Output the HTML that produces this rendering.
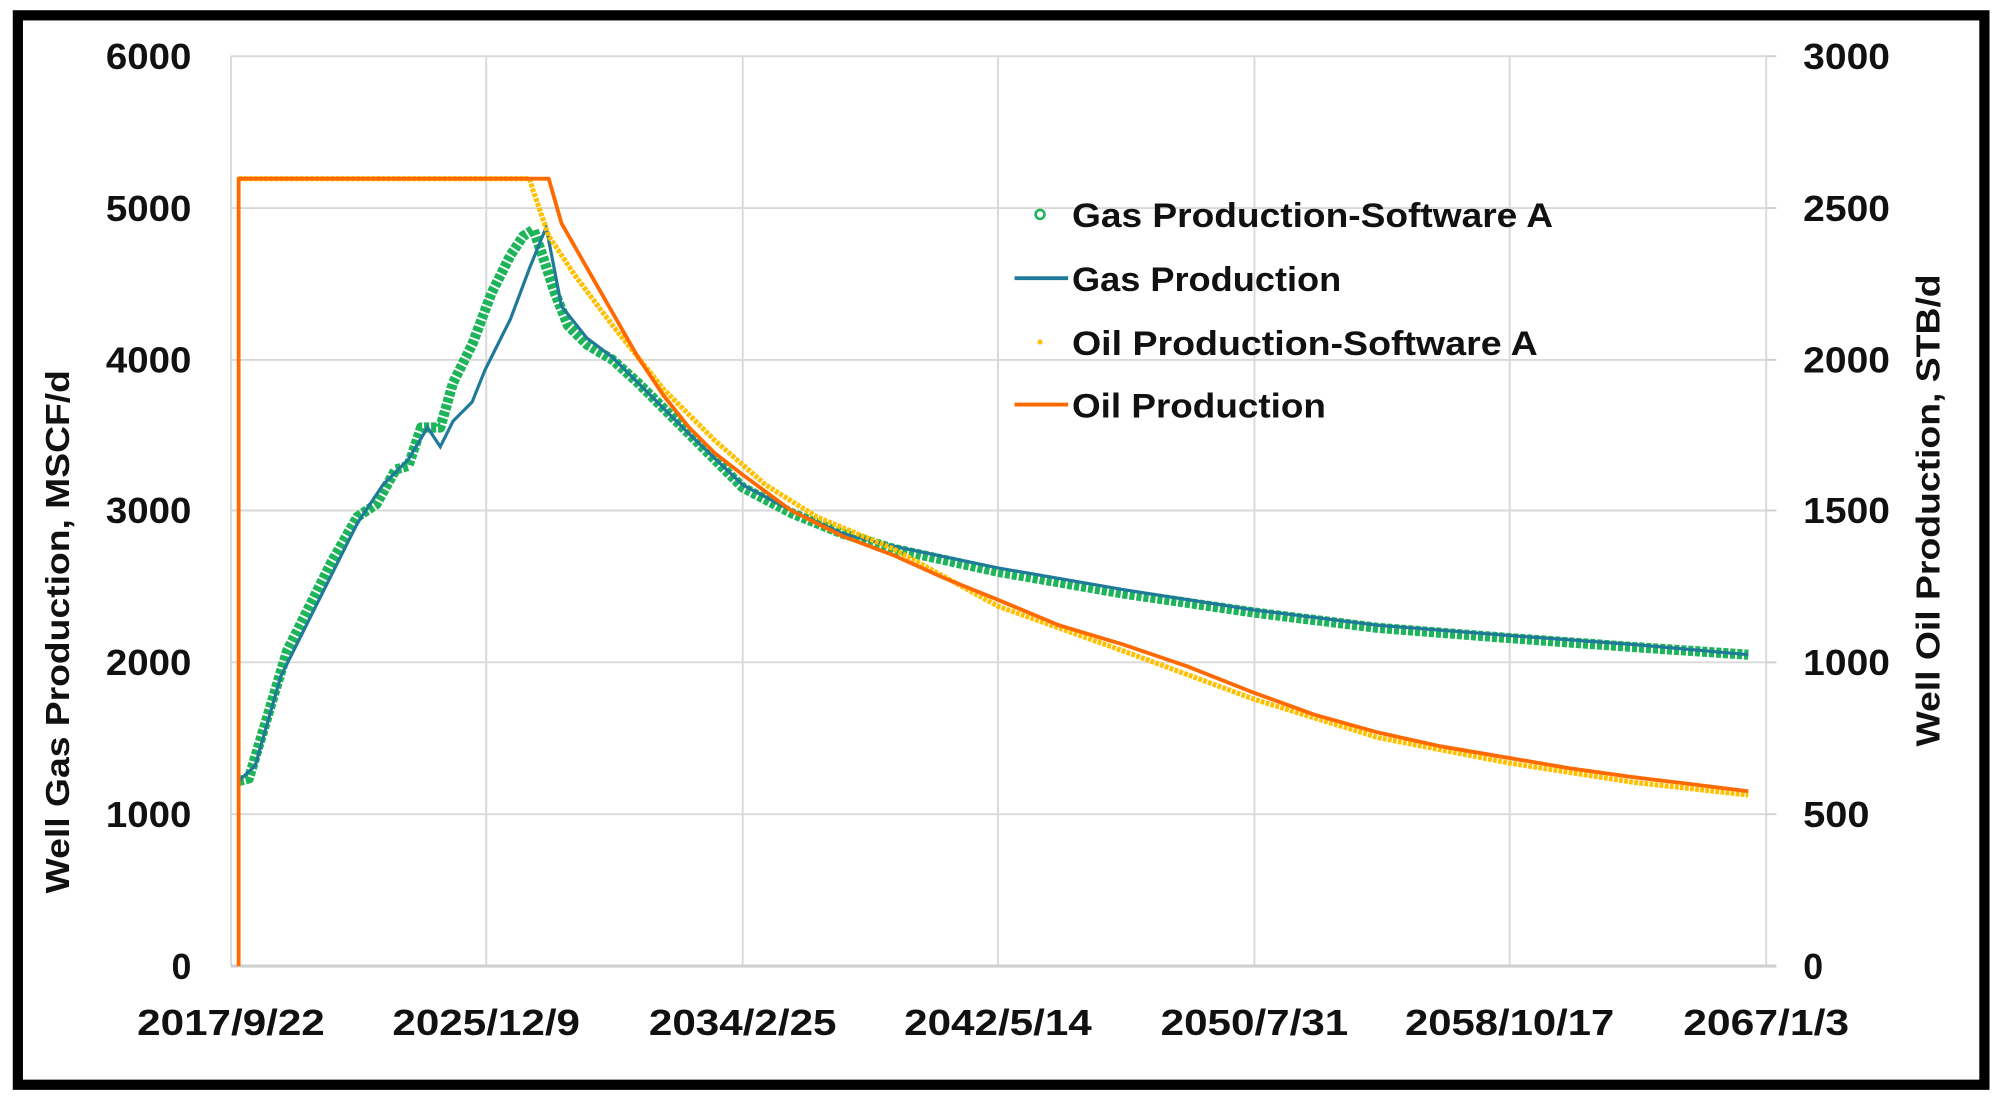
<!DOCTYPE html>
<html><head><meta charset="utf-8"><style>
html,body{margin:0;padding:0;background:#fff;}
svg{display:block;}
text{font-family:"Liberation Sans",sans-serif;font-weight:bold;fill:#111;}
</style></head><body>
<svg width="2001" height="1102" viewBox="0 0 1568 863.5" xmlns="http://www.w3.org/2000/svg">
<rect x="0" y="0" width="1568" height="863.5" fill="#fff"/>
<rect x="14" y="12" width="1541" height="838" fill="none" stroke="#000" stroke-width="8"/>
<g stroke="#d9d9d9" stroke-width="1.5">
<line x1="181" y1="44" x2="1384" y2="44"/><line x1="181" y1="163" x2="1384" y2="163"/>
<line x1="181" y1="282" x2="1384" y2="282"/><line x1="181" y1="400" x2="1384" y2="400"/>
<line x1="181" y1="519" x2="1384" y2="519"/><line x1="181" y1="638" x2="1384" y2="638"/>
<line x1="181" y1="44" x2="181" y2="757"/><line x1="381" y1="44" x2="381" y2="757"/>
<line x1="582" y1="44" x2="582" y2="757"/><line x1="782" y1="44" x2="782" y2="757"/>
<line x1="983" y1="44" x2="983" y2="757"/><line x1="1183" y1="44" x2="1183" y2="757"/>
<line x1="1384" y1="44" x2="1384" y2="757"/>
</g>
<line x1="181" y1="757" x2="1392" y2="757" stroke="#d0d0d0" stroke-width="2.5"/>
<g stroke="#d0d0d0" stroke-width="1.5"><line x1="1384" y1="44" x2="1392" y2="44"/><line x1="1384" y1="163" x2="1392" y2="163"/><line x1="1384" y1="282" x2="1392" y2="282"/><line x1="1384" y1="400" x2="1392" y2="400"/><line x1="1384" y1="519" x2="1392" y2="519"/><line x1="1384" y1="638" x2="1392" y2="638"/></g>
<g font-size="28" text-anchor="end">
<text x="150" y="54" textLength="67" lengthAdjust="spacingAndGlyphs">6000</text><text x="150" y="173" textLength="67" lengthAdjust="spacingAndGlyphs">5000</text><text x="150" y="292" textLength="67" lengthAdjust="spacingAndGlyphs">4000</text>
<text x="150" y="410" textLength="67" lengthAdjust="spacingAndGlyphs">3000</text><text x="150" y="529" textLength="67" lengthAdjust="spacingAndGlyphs">2000</text><text x="150" y="648" textLength="67" lengthAdjust="spacingAndGlyphs">1000</text><text x="150" y="767">0</text>
</g>
<g font-size="28" text-anchor="start">
<text x="1413" y="54" textLength="68" lengthAdjust="spacingAndGlyphs">3000</text><text x="1413" y="173" textLength="68" lengthAdjust="spacingAndGlyphs">2500</text><text x="1413" y="292" textLength="68" lengthAdjust="spacingAndGlyphs">2000</text>
<text x="1413" y="410" textLength="68" lengthAdjust="spacingAndGlyphs">1500</text><text x="1413" y="529" textLength="68" lengthAdjust="spacingAndGlyphs">1000</text><text x="1413" y="648" textLength="52" lengthAdjust="spacingAndGlyphs">500</text><text x="1413" y="767">0</text>
</g>
<g font-size="28" text-anchor="middle">
<text x="181" y="811" textLength="147" lengthAdjust="spacingAndGlyphs">2017/9/22</text><text x="381" y="811" textLength="147" lengthAdjust="spacingAndGlyphs">2025/12/9</text><text x="582" y="811" textLength="147" lengthAdjust="spacingAndGlyphs">2034/2/25</text>
<text x="782" y="811" textLength="147" lengthAdjust="spacingAndGlyphs">2042/5/14</text><text x="983" y="811" textLength="147" lengthAdjust="spacingAndGlyphs">2050/7/31</text><text x="1183" y="811" textLength="164" lengthAdjust="spacingAndGlyphs">2058/10/17</text><text x="1384" y="811" textLength="130" lengthAdjust="spacingAndGlyphs">2067/1/3</text>
</g>
<text font-size="26" text-anchor="middle" textLength="410" lengthAdjust="spacingAndGlyphs" transform="translate(54,495) rotate(-90)">Well Gas Production,  MSCF/d</text>
<text font-size="26" text-anchor="middle" textLength="370" lengthAdjust="spacingAndGlyphs" transform="translate(1520,400) rotate(-90)">Well Oil Production, STB/d</text>
<!-- gas software A -->
<polyline fill="none" stroke="#1db45a" stroke-width="8" stroke-dasharray="4 1.5" stroke-linejoin="round" points="187,612 195,610 210,560 225,510 240,480 260,440 280,405 295,395 310,368 320,365 330,335 345,335 355,300 370,270 385,230 400,200 410,185 418,180 425,200 435,230 445,255 460,270 480,282 500,300 540,340 582,382 620,402 660,418 700,430 782,448 880,465 983,480 1080,492 1183,500 1280,507 1370,513"/>
<!-- gas line -->
<polyline fill="none" stroke="#1f7a99" stroke-width="2.5" points="187,612 200,600 220,530 240,490 260,450 280,410 300,380 320,360 335,335 345,350 355,330 370,315 380,290 400,250 415,210 428,178 440,240 460,265 480,280 500,300 540,340 582,380 620,400 660,418 700,428 782,445 880,462 983,478 1080,490 1183,498 1280,505 1370,513"/>
<!-- oil software A -->
<polyline fill="none" stroke="#ffc000" stroke-width="4" stroke-dasharray="3 1" points="187,140 415,140 418,150 430,185 450,215 480,255 520,305 560,345 600,380 640,405 700,430 782,475 880,510 983,548 1080,578 1183,598 1280,613 1370,623"/>
<!-- oil line -->
<polyline fill="none" stroke="#ff6a00" stroke-width="3" stroke-linejoin="round" points="187,757 187,140 430,140 440,175 460,210 480,245 500,280 520,310 540,335 560,355 582,372 620,400 660,420 700,435 740,453 782,470 830,490 880,505 930,522 983,543 1030,560 1080,574 1130,585 1183,594 1230,602 1280,609 1330,615 1370,620"/>
<!-- legend -->
<circle cx="815" cy="168" r="3.5" fill="none" stroke="#1db45a" stroke-width="2"/>
<line x1="795" y1="218" x2="837" y2="218" stroke="#1f7a99" stroke-width="3"/>
<circle cx="815" cy="268" r="2" fill="#ffc000"/>
<line x1="795" y1="317" x2="837" y2="317" stroke="#ff6a00" stroke-width="3"/>
<g font-size="27">
<text x="840" y="178" textLength="377" lengthAdjust="spacingAndGlyphs">Gas Production-Software A</text>
<text x="840" y="228" textLength="211" lengthAdjust="spacingAndGlyphs">Gas Production</text>
<text x="840" y="278" textLength="365" lengthAdjust="spacingAndGlyphs">Oil Production-Software A</text>
<text x="840" y="327" textLength="199" lengthAdjust="spacingAndGlyphs">Oil Production</text>
</g>
</svg>
</body></html>
